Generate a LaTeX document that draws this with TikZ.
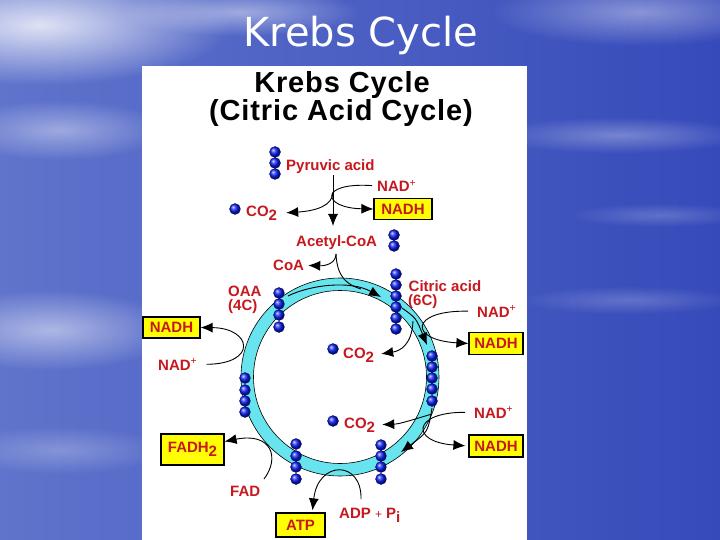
\documentclass[tikz,border=0pt]{standalone}
\usepackage{fontspec}
\setmainfont{Liberation Sans}
\newfontfamily\slidefont{DejaVu Sans}
\usetikzlibrary{arrows.meta,fadings}
\definecolor{krebsred}{RGB}{198,24,30}
\definecolor{ringcyan}{RGB}{104,228,238}
\definecolor{boxyellow}{RGB}{255,255,0}
\definecolor{dotblue}{RGB}{10,30,245}
\definecolor{skyleft}{RGB}{96,116,204}
\definecolor{skyright}{RGB}{54,74,186}
\tikzfading[name=softcloud,inner color=transparent!0,outer color=transparent!100]
\newcommand\low[1]{\raisebox{-4pt}{#1}}
\newcommand\plus{\textsuperscript{\mdseries +}}

\begin{document}
\begin{tikzpicture}[x=1pt,y=-1pt,
		lbl/.style={text=krebsred,font=\fontsize{15}{16}\selectfont\bfseries,inner sep=1pt},
		box/.style={lbl,draw=black,line width=1.2pt,fill=boxyellow,inner sep=0pt},
		arr/.style={-{Latex[length=12pt,width=10pt]},line width=0.9pt},
		link/.style={line width=0.9pt},
		ball/.style={ball color=dotblue,draw=blue!30!black,line width=0.3pt},
		cloud/.style={fill=white,path fading=softcloud}]
		\useasboundingbox (0,0) rectangle (720,540);
		\begin{scope}
			\clip (0,0) rectangle (720,540);
			\shade[left color=skyleft,right color=skyright] (0,0) rectangle (720,540);
			\fill[cloud,opacity=.8] (40,25) ellipse [x radius=190,y radius=60];
			\fill[cloud,opacity=.45] (240,12) ellipse [x radius=120,y radius=24];
			\fill[cloud,opacity=.4] (640,12) ellipse [x radius=150,y radius=34];
			\fill[cloud,opacity=.3] (620,135) ellipse [x radius=130,y radius=18];
			\fill[cloud,opacity=.2] (660,215) ellipse [x radius=90,y radius=12];
			\fill[cloud,opacity=.4] (60,130) ellipse [x radius=110,y radius=30];
			\fill[cloud,opacity=.5] (50,330) ellipse [x radius=130,y radius=40];
			\fill[cloud,opacity=.25] (60,450) ellipse [x radius=110,y radius=24];
			\fill[cloud,opacity=.2] (630,300) ellipse [x radius=110,y radius=14];
		\end{scope}
		\node[anchor=base,text=white,font=\slidefont\fontsize{40}{42}\selectfont] (slidetitle) at (360.5,47) {Krebs Cycle};
		\fill[white] (142,66) rectangle (527,540);
		\node[anchor=base,font=\fontsize{29}{30}\selectfont\bfseries\addfontfeature{LetterSpace=3}] (head) at (342,93) {Krebs Cycle};
		\node[anchor=base,font=\fontsize{29}{30}\selectfont\bfseries\addfontfeature{LetterSpace=3}] (subhead) at (341,121) {(Citric Acid Cycle)};
		\fill[ringcyan,even odd rule] (340,377) circle (99pt) (340,377) circle (86.5pt);
		\draw[line width=0.6pt] (340,377) circle (99pt) (340,377) circle (86.5pt);
		\node[lbl,anchor=base west] (pyr) at (285,170.5) {Pyruvic acid};
		\node[lbl,anchor=base west] (nadA) at (376,191.5) {NAD\plus};
		\node[lbl,anchor=base west] (co2A) at (245,216.5) {CO\low{2}};
		\node[box,minimum width=58pt,minimum height=21pt] (nadhA) at (403,209) {NADH};
		\node[lbl,anchor=base west] (acoa) at (295,246.5) {Acetyl-CoA};
		\node[lbl,anchor=base west] (coa) at (272,270.5) {CoA};
		\node[lbl,anchor=base west] (oaa) at (227,296.5) {OAA};
		\node[lbl,anchor=base west] (oaac) at (227,310) {(4C)};
		\node[lbl,anchor=base west] (cit) at (407.5,291.5) {Citric acid};
		\node[lbl,anchor=base west] (citc) at (407,305) {(6C)};
		\node[lbl,anchor=base west] (nadB) at (476,317) {NAD\plus};
		\node[box,minimum width=54pt,minimum height=22pt] (nadhB) at (496,343.5) {NADH};
		\node[box,minimum width=57pt,minimum height=21pt] (nadhL) at (171.5,327.5) {NADH};
		\node[lbl,anchor=base west] (nadL) at (157,370) {NAD\plus};
		\node[lbl,anchor=base west] (co2B) at (342,358) {CO\low{2}};
		\node[lbl,anchor=base west] (nadC) at (473,418) {NAD\plus};
		\node[lbl,anchor=base west] (co2C) at (343,428) {CO\low{2}};
		\node[box,minimum width=54pt,minimum height=22pt] (nadhC) at (496,446) {NADH};
		\node[box,minimum width=63pt,minimum height=31pt] (fadh) at (192.5,449.5) {FADH\low{2}};
		\node[lbl,anchor=base west] (fad) at (229,496.5) {FAD};
		\node[box,minimum width=49pt,minimum height=24pt] (atp) at (300.5,525) {ATP};
		\node[lbl,anchor=base west] (adp) at (338,518) {ADP {\mdseries\fontsize{12}{12}\selectfont +} P\low{i}};
		\coordinate (pa) at (333,226);
		\coordinate (v1) at (333,192);
		\draw[arr] (pyr.south -| pa) -- (pa);
		\draw[arr,shorten >=8pt] (v1) .. controls (333,206) and (315,211) .. (co2A.east);
		\draw[arr,shorten <=4pt] (nadA.west) .. controls (318,182) and (322,208) .. (nadhA.west);
		\coordinate (ac) at (336,254);
		\coordinate (j1) at (361,289);
		\coordinate (o1) at (288,296);
		\coordinate (c1) at (381,297);
		\draw[arr,shorten >=3pt] (ac) .. controls (336,263) and (326,266) .. (coa.east);
		\draw[link] (ac) .. controls (337,278) and (348,285) .. (j1);
		\draw[arr] (o1) .. controls (310,285) and (350,280) .. (c1);
		\coordinate (r1) at (402,308);
		\coordinate (r2) at (427,345);
		\coordinate (m1) at (413,321);
		\draw[arr] (r1) .. controls (416,318) .. (r2);
		\draw[arr,shorten <=8pt] (nadB.west) .. controls (410,310) and (408,340) .. (nadhB.west);
		\draw[arr,shorten >=6pt] (m1) .. controls (412,345) and (400,351) .. (co2B.east);
		\coordinate (r3) at (432,408);
		\coordinate (r4) at (401,452);
		\coordinate (m2) at (432,414);
		\draw[arr] (r3) .. controls (428,432) .. (r4);
		\draw[arr,shorten <=8pt,shorten >=3pt] (nadC.west) .. controls (412,412) and (410,442) .. (nadhC.west);
		\draw[arr,shorten >=6pt] (m2) .. controls (415,419) and (400,424) .. (co2C.east);
		\coordinate (a1) at (361,499);
		\coordinate (f1) at (264,479);
		\draw[arr] (a1) .. controls (362,460) and (318,460) .. ([xshift=12pt,yshift=2pt]atp.north);
		\draw[arr] (f1) .. controls (280,458) and (272,432) .. ([yshift=8pt]fadh.east);
		\draw[arr,shorten <=8pt] (nadL.east) .. controls (258,364) and (252,328) .. (nadhL.east);
		\foreach \y in {152,163,174} \shadedraw[ball] (275,\y) circle (5.5pt);
		\shadedraw[ball] (235,209) circle (5.5pt);
		\foreach \y in {235,246} \shadedraw[ball] (394,\y) circle (5.5pt);
		\foreach \y in {274,285,296,307,318,329} \shadedraw[ball] (396,\y) circle (5.5pt);
		\foreach \y in {293,304,315,327} \shadedraw[ball] (279,\y) circle (5.5pt);
		\foreach \y in {378,390,401,412} \shadedraw[ball] (245,\y) circle (5.5pt);
		\foreach \y in {356,367,378,389,401} \shadedraw[ball] (432,\y) circle (5.5pt);
		\foreach \y in {444,456,467,479} \shadedraw[ball] (296,\y) circle (5.5pt);
		\foreach \y in {445,456,467,479} \shadedraw[ball] (381,\y) circle (5.5pt);
		\shadedraw[ball] (333,349) circle (5.5pt);
		\shadedraw[ball] (333,421) circle (5.5pt);
\end{tikzpicture}
\end{document}
